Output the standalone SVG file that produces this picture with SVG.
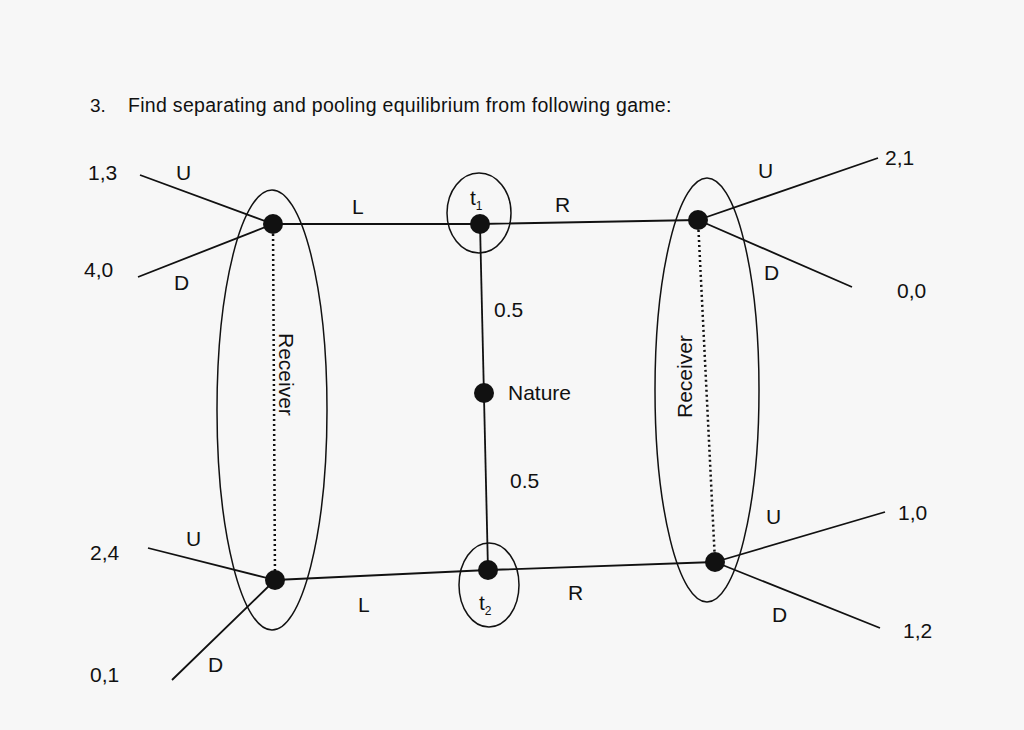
<svg xmlns="http://www.w3.org/2000/svg" width="1024" height="730" viewBox="0 0 1024 730">
<style>
text{font-family:"Liberation Sans",Arial,sans-serif;font-size:21px;fill:#111}
.l{stroke:#111;stroke-width:1.8;fill:none}
.e{stroke:#111;stroke-width:1.5;fill:none}
.d{stroke:#111;stroke-width:2.5;stroke-dasharray:2 3;fill:none}
.n{fill:#111}
</style>
<rect width="1024" height="730" fill="#f7f7f7"/>
<text x="90" y="112" style="font-size:19px">3.</text>
<text x="128" y="112" style="font-size:19.5px;letter-spacing:0.3px">Find separating and pooling equilibrium from following game:</text>
<g id="connectors">
<path class="l" d="M273 224 L480 224 L698 220"/>
<path class="l" d="M480 224 L488 570"/>
<path class="l" d="M275 580 L488 570 L715 562"/>
<path class="l" d="M273 224 L140 175 M273 224 L138 277"/>
<path class="l" d="M698 220 L878 158 M698 220 L852 287"/>
<path class="l" d="M275 580 L148 548 M275 580 L172 680"/>
<path class="l" d="M715 562 L885 512 M715 562 L880 628"/>
<path class="d" d="M273 224 L275 580"/>
<path class="d" d="M698 220 L715 562"/>
</g>
<g id="infosets">
<ellipse class="e" cx="479" cy="213" rx="32" ry="40"/>
<ellipse class="e" cx="489" cy="585" rx="30" ry="42"/>
<ellipse class="e" cx="272" cy="410" rx="55" ry="220"/>
<ellipse class="e" cx="707" cy="390" rx="52" ry="212"/>
</g>
<g id="n_lt"><circle class="n" cx="273" cy="224" r="10"/></g>
<g id="n_t1"><circle class="n" cx="480" cy="224" r="10"/></g>
<g id="n_rt"><circle class="n" cx="698" cy="220" r="10"/></g>
<g id="n_nature"><circle class="n" cx="484" cy="393" r="10"/></g>
<g id="n_lb"><circle class="n" cx="275" cy="580" r="10"/></g>
<g id="n_t2"><circle class="n" cx="488" cy="570" r="10"/></g>
<g id="n_rb"><circle class="n" cx="715" cy="562" r="10"/></g>
<g id="labels">
<text x="88" y="180">1,3</text><text x="176" y="180">U</text>
<text x="84" y="277">4,0</text><text x="174" y="290">D</text>
<text x="885" y="165">2,1</text><text x="758" y="178">U</text>
<text x="897" y="298">0,0</text><text x="764" y="280">D</text>
<text x="90" y="560">2,4</text><text x="186" y="546">U</text>
<text x="90" y="682">0,1</text><text x="208" y="672">D</text>
<text x="898" y="520">1,0</text><text x="766" y="524">U</text>
<text x="903" y="638">1,2</text><text x="772" y="622">D</text>
<text x="352" y="214">L</text><text x="358" y="612">L</text>
<text x="555" y="212">R</text><text x="568" y="600">R</text>
<text x="470" y="205">t<tspan font-size="12" dy="5">1</tspan></text>
<text x="479" y="610">t<tspan font-size="12" dy="5">2</tspan></text>
<text x="494" y="317">0.5</text>
<text x="510" y="488">0.5</text>
<text x="508" y="400">Nature</text>
<text transform="translate(279,333) rotate(90)">Receiver</text>
<text transform="translate(692,418) rotate(-90)">Receiver</text>
</g>
</svg>
